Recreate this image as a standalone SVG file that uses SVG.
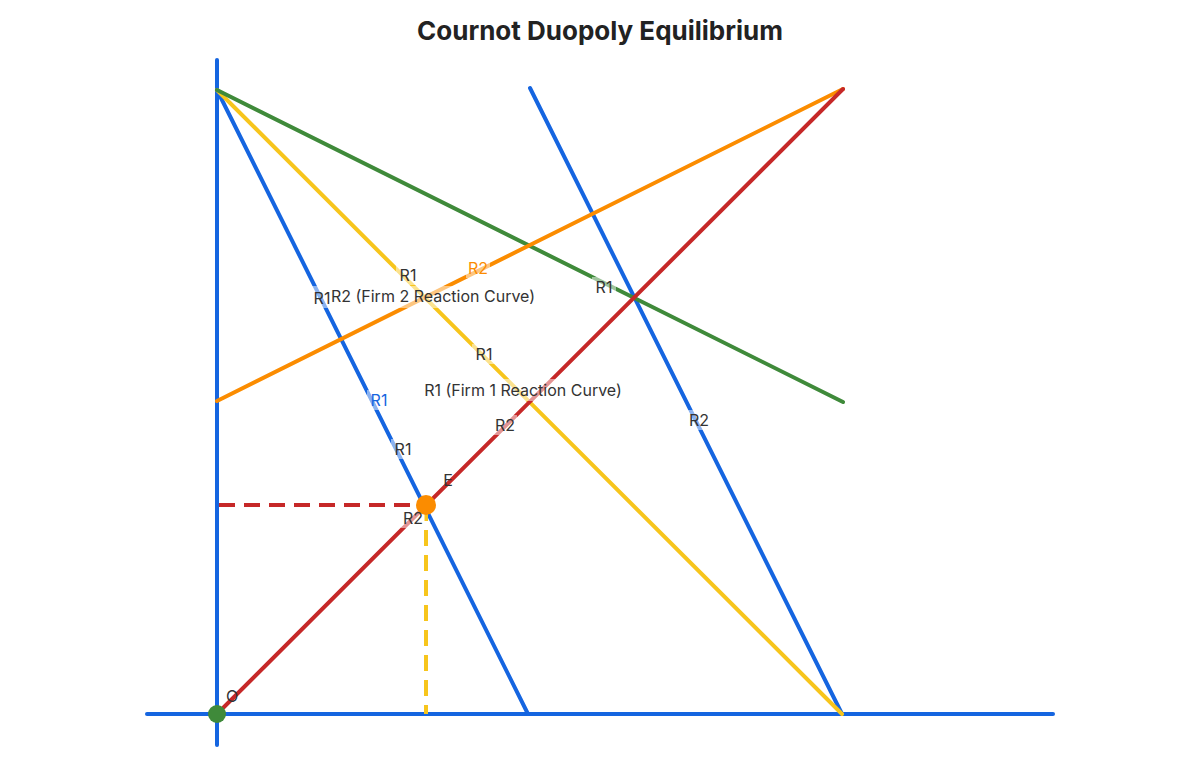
<svg xmlns="http://www.w3.org/2000/svg" width="1200" height="763" viewBox="0 0 1200 763">
<style>
.l{fill:none;stroke-width:4;stroke-linecap:round}
.t{font-family:Inter,"Noto Sans",sans-serif;font-size:16px;fill:#333;text-anchor:middle;dominant-baseline:central}
.h{fill:#fff;fill-opacity:0.5}
</style>
<rect width="1200" height="763" fill="#fff"/>
<text x="600" y="30" font-family="Inter,'Noto Sans',sans-serif" font-size="26" font-weight="bold" fill="#222" text-anchor="middle" dominant-baseline="central">Cournot Duopoly Equilibrium</text>
<g id="connectors">
<line class="l" x1="217" y1="60" x2="217" y2="745" stroke="#1565e0"/>
<line class="l" x1="147" y1="714" x2="1053" y2="714" stroke="#1565e0"/>
<line class="l" x1="217" y1="90" x2="528" y2="714" stroke="#1565e0"/>
<line class="l" x1="530" y1="88" x2="842" y2="714" stroke="#1565e0"/>
<line class="l" x1="217" y1="90" x2="842" y2="714" stroke="#f7c51c"/>
<line class="l" x1="217" y1="90" x2="843" y2="402" stroke="#3f8a3a"/>
<line class="l" x1="217" y1="401" x2="843" y2="89" stroke="#fb8c00"/>
<line class="l" x1="217" y1="714" x2="843" y2="89" stroke="#c62828"/>
<line x1="219" y1="505" x2="426" y2="505" stroke="#c62828" stroke-width="4" stroke-dasharray="16,9"/>
<line x1="426" y1="505" x2="426" y2="714" stroke="#f7c51c" stroke-width="4" stroke-dasharray="16,9"/>
</g>
<g id="label-halos">
<rect class="h" x="396" y="265" width="24" height="20"/>
<rect class="h" x="466" y="258" width="24" height="20"/>
<rect class="h" x="308" y="286" width="248" height="22"/>
<rect class="h" x="592" y="277" width="24" height="20"/>
<rect class="h" x="472" y="344" width="24" height="20"/>
<rect class="h" x="412" y="379" width="222" height="22"/>
<rect class="h" x="367" y="390" width="24" height="20"/>
<rect class="h" x="493" y="415" width="24" height="20"/>
<rect class="h" x="391" y="439" width="24" height="20"/>
<rect class="h" x="401" y="508" width="24" height="20"/>
<rect class="h" x="687" y="410" width="24" height="20"/>
</g>
<g id="node-E"><circle cx="426" cy="505" r="10" fill="#fb8c00"/><text class="t" x="448" y="480">E</text></g>
<g id="node-O"><circle cx="217" cy="714" r="9" fill="#3f8a3a"/><text class="t" x="232" y="696">O</text></g>
<g id="labels">
<text class="t" x="408" y="275">R1</text>
<text class="t" x="478" y="268" style="fill:#fb8c00">R2</text>
<text class="t" x="322" y="298">R1</text>
<text class="t" x="433" y="296">R2 (Firm 2 Reaction Curve)</text>
<text class="t" x="604" y="287">R1</text>
<text class="t" x="484" y="354">R1</text>
<text class="t" x="523" y="390">R1 (Firm 1 Reaction Curve)</text>
<text class="t" x="379" y="400" style="fill:#1565e0">R1</text>
<text class="t" x="505" y="425">R2</text>
<text class="t" x="403" y="449">R1</text>
<text class="t" x="413" y="518">R2</text>
<text class="t" x="699" y="420">R2</text>
</g>
</svg>
